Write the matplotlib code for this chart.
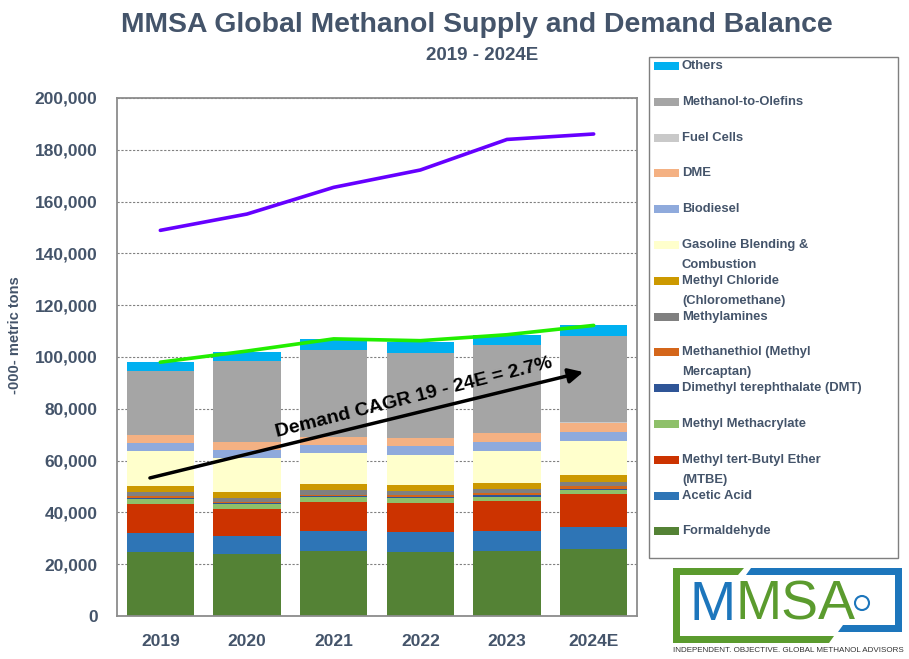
import matplotlib.pyplot as plt
import matplotlib.patches as mpatches
import numpy as np
from matplotlib.ticker import FuncFormatter

plt.rcParams['font.family'] = ['Liberation Sans', 'DejaVu Sans']

years = ["2019", "2020", "2021", "2022", "2023", "2024E"]

# demand by end use, metric tons (000), bottom to top
formaldehyde = [24700, 23900, 25100, 24700, 25100, 25900]
acetic_acid = [7200, 7000, 7700, 7700, 7700, 8500]
mtbe = [11300, 10400, 11200, 11200, 11600, 12700]
mma = [2000, 1900, 1900, 2000, 1500, 1500]
dmt = [500, 400, 600, 500, 900, 600]
methanethiol = [500, 400, 400, 500, 500, 800]
methylamines = [1700, 1600, 1700, 1700, 1600, 1900]
methyl_chloride = [2300, 2300, 2400, 2300, 2400, 2400]
gasoline = [13500, 13100, 11900, 11600, 12300, 13100]
biodiesel = [3100, 3100, 3100, 3400, 3500, 3800]
dme = [3100, 3100, 3100, 3100, 3500, 3500]
fuel_cells = [100, 100, 100, 100, 100, 300]
mto = [24600, 31200, 33500, 32700, 33800, 33300]
others = [3500, 3400, 4200, 4300, 3900, 3900]

supply = [148900, 155200, 165500, 172200, 184000, 186100]
demand = [98000, 102300, 107000, 106300, 108600, 112200]

series = [
    ("Formaldehyde", formaldehyde, "#548235"),
    ("Acetic Acid", acetic_acid, "#2E75B6"),
    ("Methyl tert-Butyl Ether\n(MTBE)", mtbe, "#CC3300"),
    ("Methyl Methacrylate", mma, "#8EC06A"),
    ("Dimethyl terephthalate (DMT)", dmt, "#2F5597"),
    ("Methanethiol (Methyl\nMercaptan)", methanethiol, "#D4661A"),
    ("Methylamines", methylamines, "#808080"),
    ("Methyl Chloride\n(Chloromethane)", methyl_chloride, "#CC9900"),
    ("Gasoline Blending &\nCombustion", gasoline, "#FFFFCC"),
    ("Biodiesel", biodiesel, "#8FAADC"),
    ("DME", dme, "#F4B183"),
    ("Fuel Cells", fuel_cells, "#C9C9C9"),
    ("Methanol-to-Olefins", mto, "#A5A5A5"),
    ("Others", others, "#00B0F0"),
]

txt = "#44546A"
W, H = 909, 659
fig = plt.figure(figsize=(W / 100, H / 100), dpi=100)
ax = fig.add_axes([117 / W, 1 - 616 / H, 520 / W, 518 / H])

x = np.arange(len(years))
bottom = np.zeros(len(years))
for name, vals, col in series:
    ax.bar(x, vals, 0.78, bottom=bottom, color=col, zorder=2)
    bottom += np.array(vals)

ax.plot(x, supply, color="#6600FF", lw=2.6, solid_capstyle="round", zorder=4)
ax.plot(x, demand, color="#22EE00", lw=2.6, solid_capstyle="round", zorder=4)

# CAGR arrow
arrow_start = (-0.12, 53300)
arrow_end = (4.88, 94200)
ax.annotate("", xy=arrow_end, xytext=arrow_start,
            arrowprops=dict(arrowstyle="-|>", lw=2.5, color="black",
                            mutation_scale=22, shrinkA=0, shrinkB=0), zorder=5)
ax.text(2.93, 84300, "Demand CAGR 19 - 24E = 2.7%", rotation=14.2,
        rotation_mode="anchor", ha="center", va="center",
        fontsize=14, fontweight="bold", color="black", zorder=5)

ax.set_xlim(-0.5, len(years) - 0.5)
ax.set_ylim(0, 200000)
ax.set_yticks(np.arange(0, 200001, 20000))
ax.yaxis.set_major_formatter(FuncFormatter(lambda v, p: f"{int(v):,}"))
ax.set_xticks(x)
ax.set_xticklabels(years)
ax.tick_params(length=0, labelsize=12.5, labelcolor=txt, pad=14)
for lab in ax.get_xticklabels() + ax.get_yticklabels():
    lab.set_fontweight("bold")
ax.tick_params(axis="x", pad=13)
ax.grid(axis="y", color="#808080", ls=(0, (2, 1.5)), lw=0.8, zorder=1)
for s in ax.spines.values():
    s.set_color("#8C8C8C")
    s.set_linewidth(1.3)

fig.text(15 / W, 1 - 335 / H, "-000- metric tons", rotation=90, ha="center",
         va="center", fontsize=10.5, fontweight="bold", color=txt)
fig.text(477 / W, 1 - 25 / H, "MMSA Global Methanol Supply and Demand Balance",
         ha="center", va="center", fontsize=20.4, fontweight="bold", color=txt)
fig.text(482 / W, 1 - 55 / H, "2019 - 2024E", ha="center", va="center",
         fontsize=13.5, fontweight="bold", color=txt)

# legend panel in pixel coords
lg = fig.add_axes([0, 0, 1, 1], facecolor="none")
lg.set_xlim(0, W)
lg.set_ylim(H, 0)
lg.axis("off")
lg.add_patch(mpatches.Rectangle((649, 57), 249, 501, fill=False,
                                ec="#7F7F7F", lw=1))
for i, (name, vals, col) in enumerate(series[::-1]):
    yy = 66 + i * 35.8
    lg.add_patch(mpatches.Rectangle((654, yy - 4), 25, 8, color=col, lw=0))
    for j, line in enumerate(name.split("\n")):
        lg.text(682, yy + j * 20, line, ha="left", va="center", fontsize=9.4,
                fontweight="bold", color=txt)

# MMSA logo
green, blue = "#5B9B2E", "#1D76BC"
lg.add_patch(mpatches.Polygon([(673, 568), (744, 568), (738, 575), (680, 575),
                               (680, 636), (834, 636), (829, 643), (673, 643)],
                              closed=True, color=green, lw=0))
lg.add_patch(mpatches.Polygon([(751, 568), (902, 568), (902, 632), (838, 632),
                               (843, 625), (895, 625), (895, 575), (746, 575)],
                              closed=True, color=blue, lw=0))
lg.text(689, 606, "M", ha="left", va="center", fontsize=40, color=blue)
lg.text(736, 606, "MSA", ha="left", va="center", fontsize=40, color=green)
lg.add_patch(mpatches.Circle((862, 603), 7, fc="white", ec=blue, lw=1.5))
lg.text(788, 651, "INDEPENDENT. OBJECTIVE. GLOBAL METHANOL ADVISORS",
        ha="center", va="center", fontsize=5.8, color="#333333")

fig.savefig("out.png", dpi=100)
